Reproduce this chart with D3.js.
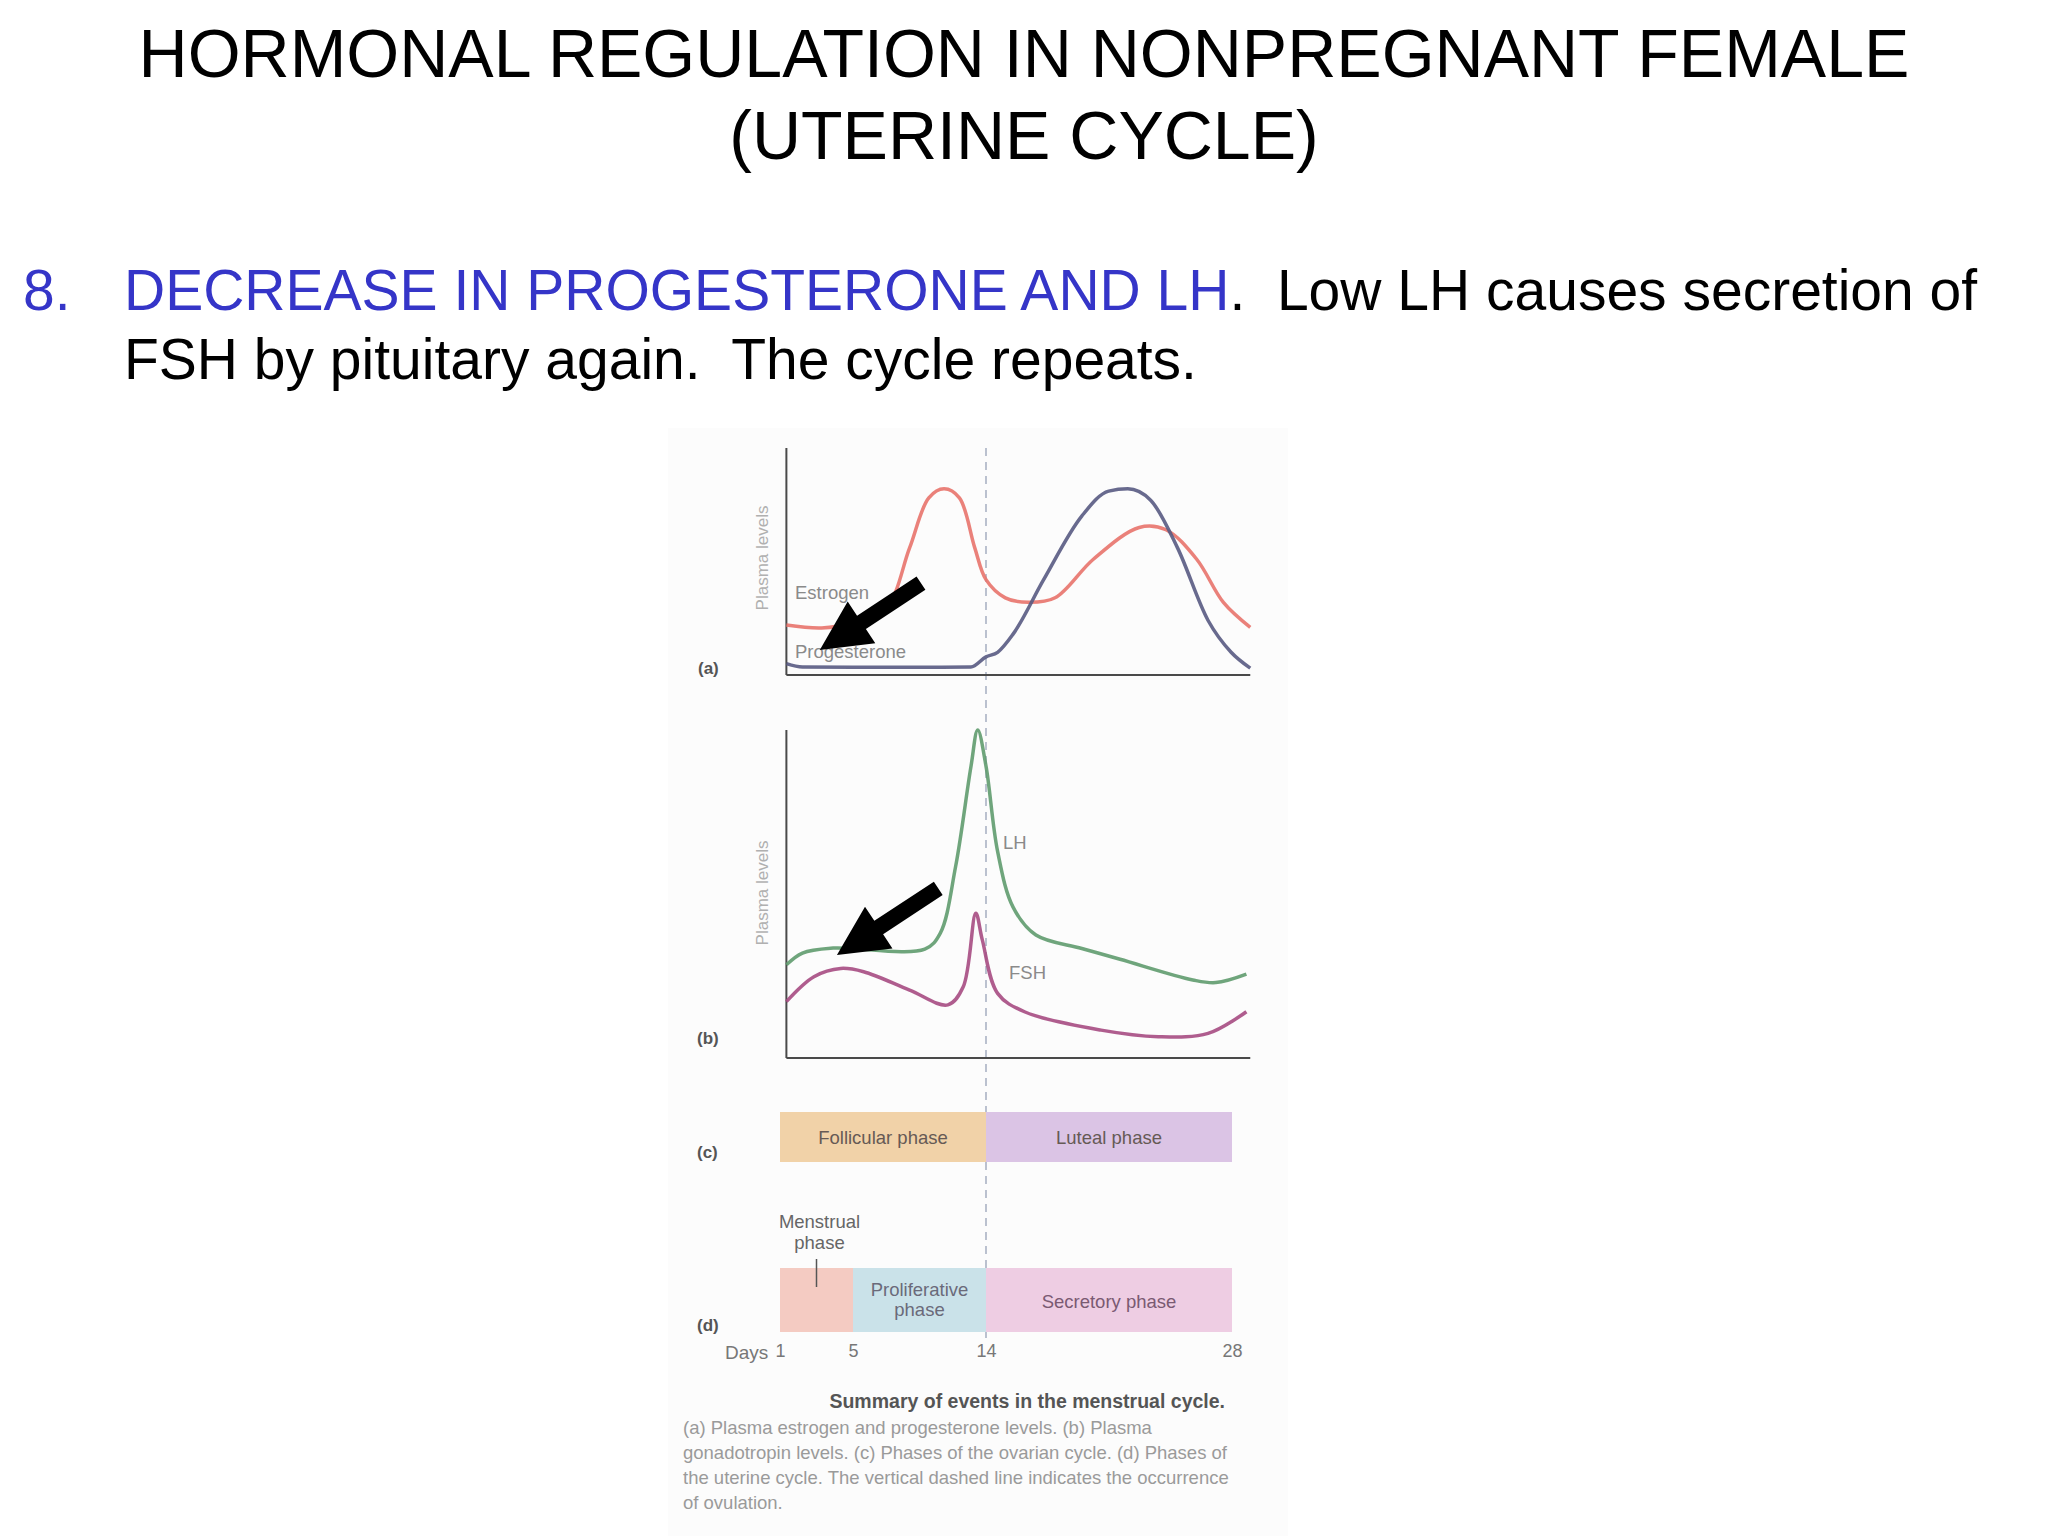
<!DOCTYPE html>
<html>
<head>
<meta charset="utf-8">
<script src="https://cdn.jsdelivr.net/npm/d3@7"></script>
<style>
  body { margin: 0; background: #fff; }
  svg text { font-family: "Liberation Sans", Arial, sans-serif; white-space: pre; }
</style>
</head>
<body>
<div id="chart"></div>
<script>
/* hormonal regulation slide */

const width = 2048;
const height = 1536;

// ---- data (days of cycle, relative plasma level 0-100) ----
const dayTicks = [1, 5, 14, 28];

const estrogenDays   = [1.35, 3.28, 4.96, 7.28, 8.83, 10.13, 11.16, 12.2, 13.24, 14.0, 15.1, 16.41, 17.93, 20.11, 22.72, 24.24, 25.99, 27.51, 29.04];
const estrogenLevels = [22, 20.7, 23, 30, 56, 78, 82, 78, 56, 42, 34, 32, 34, 51, 65, 64, 51, 32, 21];

const progesteroneDays   = [1.35, 2.23, 5, 8, 11, 12.98, 14.0, 14.66, 15.54, 17.28, 19.45, 20.98, 22.07, 23.37, 24.9, 26.64, 27.95, 29.04];
const progesteroneLevels = [5, 3.5, 3.4, 3.4, 3.4, 3.5, 8, 10, 18, 42, 70, 81, 82, 77, 56, 24, 10, 3];

const lhDays   = [1.35, 2.23, 3.91, 9.86, 10.9, 11.94, 12.98, 13.44, 14.0, 14.66, 15.54, 16.84, 19.45, 21.63, 25.77, 27.08, 28.82];
const lhLevels = [28.4, 32, 33.5, 33.2, 38, 58.3, 88.8, 100, 89, 63, 46, 37.5, 33.4, 30.1, 23.8, 23, 25.6];

const fshDays   = [1.35, 2.86, 4.33, 5.72, 8.83, 11.42, 12.46, 13.31, 13.75, 14.66, 16.19, 20.55, 23.81, 26.64, 28.82];
const fshLevels = [17.2, 24.8, 27.3, 26.3, 20.7, 16.2, 21.7, 44.1, 36, 19.7, 14.1, 8.5, 6.5, 7.5, 14.1];

const ovarianPhases = ["Follicular phase", "Luteal phase"];
const ovarianStarts = [1, 14];
const ovarianEnds   = [14, 28];

const uterinePhases = [["Menstrual", "phase"], ["Proliferative", "phase"], ["Secretory phase"]];
const uterineStarts = [1, 5, 14];
const uterineEnds   = [5, 14, 28];

const captionLines = [
  "(a) Plasma estrogen and progesterone levels. (b) Plasma",
  "gonadotropin levels. (c) Phases of the ovarian cycle. (d) Phases of",
  "the uterine cycle. The vertical dashed line indicates the occurrence",
  "of ovulation."
];

// ---- svg ----
const svg = d3.select("#chart").append("svg")
  .attr("width", width)
  .attr("height", height);

svg.append("rect").attr("width", width).attr("height", height).attr("fill", "#fff");
// faint scan background behind the figure
svg.append("rect")
  .attr("x", 668).attr("y", 428).attr("width", 620).attr("height", 1108)
  .attr("fill", "#fcfcfc");

// ---- title and text ----
svg.append("text")
  .attr("x", 1024).attr("y", 77)
  .attr("text-anchor", "middle")
  .attr("font-size", 68)
  .text("HORMONAL REGULATION IN NONPREGNANT FEMALE");
svg.append("text")
  .attr("x", 1024).attr("y", 159)
  .attr("text-anchor", "middle")
  .attr("font-size", 68)
  .text("(UTERINE CYCLE)");

svg.append("text")
  .attr("x", 23).attr("y", 310)
  .attr("font-size", 57)
  .attr("fill", "#3535c8")
  .text("8.");
const line1 = svg.append("text")
  .attr("x", 124).attr("y", 310)
  .attr("font-size", 57);
line1.append("tspan").attr("fill", "#3535c8").text("DECREASE IN PROGESTERONE AND LH");
line1.append("tspan").attr("fill", "#000").text(".  Low LH causes secretion of");
svg.append("text")
  .attr("x", 124).attr("y", 379)
  .attr("font-size", 57)
  .text("FSH by pituitary again.  The cycle repeats.");

// ---- scales ----
const x = d3.scaleLinear().domain(dayTicks).range([780, 853, 986, 1232]);
const yA = d3.scaleLinear().domain([0, 100]).range([675, 448]);
const yB = d3.scaleLinear().domain([0, 100]).range([1058, 730]);
const axisStart = 1.35, axisEnd = 29.04;

function series(days, levels) {
  return days.map((d, i) => ({ day: d, level: levels[i] }));
}

function drawFrame(y, yTopLevel) {
  const g = svg.append("g").attr("stroke", "#4a4a4a").attr("stroke-width", 2);
  g.append("line")
    .attr("x1", x(axisStart)).attr("x2", x(axisStart))
    .attr("y1", y(yTopLevel)).attr("y2", y(0));
  g.append("line")
    .attr("x1", x(axisStart)).attr("x2", x(axisEnd))
    .attr("y1", y(0)).attr("y2", y(0));
}

function drawCurve(data, y, color, curve) {
  const line = d3.line()
    .x(d => x(d.day))
    .y(d => y(d.level))
    .curve(curve || d3.curveCatmullRom.alpha(0.5));
  svg.append("path")
    .datum(data)
    .attr("d", line)
    .attr("fill", "none")
    .attr("stroke", color)
    .attr("stroke-width", 3.5)
    .attr("stroke-linejoin", "round")
    .attr("opacity", 0.9);
}

function label(txt, px, py, opts = {}) {
  return svg.append("text")
    .attr("x", px).attr("y", py)
    .attr("font-size", opts.size || 18.5)
    .attr("fill", opts.color || "#8a8a8a")
    .attr("font-weight", opts.weight || "normal")
    .attr("text-anchor", opts.anchor || "start")
    .text(txt);
}

function arrow(tipDay, tipLevel, tailDay, tailLevel, y) {
  const tx = x(tipDay), ty = y(tipLevel);
  const sx = x(tailDay), sy = y(tailLevel);
  const len = Math.hypot(tx - sx, ty - sy);
  const ux = (tx - sx) / len, uy = (ty - sy) / len;
  const nx = -uy, ny = ux;
  const hl = 50, hw = 25, sw = 8;
  const bx = tx - ux * hl, by = ty - uy * hl;
  const pts = [
    [sx + nx * sw, sy + ny * sw],
    [bx + nx * sw, by + ny * sw],
    [bx + nx * hw, by + ny * hw],
    [tx, ty],
    [bx - nx * hw, by - ny * hw],
    [bx - nx * sw, by - ny * sw],
    [sx - nx * sw, sy - ny * sw]
  ];
  svg.append("polygon")
    .attr("points", pts.map(p => p.join(",")).join(" "))
    .attr("fill", "#000");
}

// ---- ovulation dashed line ----
svg.append("line")
  .attr("x1", x(14)).attr("x2", x(14))
  .attr("y1", yA(100)).attr("y2", 1340)
  .attr("stroke", "#aab2c4")
  .attr("stroke-width", 1.6)
  .attr("stroke-dasharray", "8,6");

// ---- panel (a) ----
drawFrame(yA, 100);
drawCurve(series(estrogenDays, estrogenLevels), yA, "#e8736c");
// monotone keeps the flat progesterone baseline from dipping
drawCurve(series(progesteroneDays, progesteroneLevels), yA, "#585a82", d3.curveMonotoneX);
label("Estrogen", 795, 599);
label("Progesterone", 795, 658);
svg.append("text")
  .attr("transform", "translate(768,558) rotate(-90)")
  .attr("text-anchor", "middle")
  .attr("font-size", 17)
  .attr("fill", "#b0b0b0")
  .text("Plasma levels");
label("(a)", 698, 674, { size: 17, color: "#555", weight: "bold" });
arrow(3.18, 11, 9.6, 40.5, yA);

// ---- panel (b) ----
drawFrame(yB, 100);
drawCurve(series(lhDays, lhLevels), yB, "#5f9b6e");
drawCurve(series(fshDays, fshLevels), yB, "#a64b82");
label("LH", 1003, 849);
label("FSH", 1009, 979);
svg.append("text")
  .attr("transform", "translate(768,893) rotate(-90)")
  .attr("text-anchor", "middle")
  .attr("font-size", 17)
  .attr("fill", "#b0b0b0")
  .text("Plasma levels");
label("(b)", 697, 1044, { size: 17, color: "#555", weight: "bold" });
arrow(4.12, 31.4, 10.77, 51.7, yB);

// ---- panel (c): ovarian cycle ----
const ovarianColors = ["#f1d2a8", "#dbc4e5"];
const cTop = 1112, cBottom = 1162;
svg.selectAll("rect.ovarian")
  .data(ovarianPhases)
  .join("rect")
  .attr("class", "ovarian")
  .attr("x", (d, i) => x(ovarianStarts[i]))
  .attr("width", (d, i) => x(ovarianEnds[i]) - x(ovarianStarts[i]))
  .attr("y", cTop)
  .attr("height", cBottom - cTop)
  .attr("fill", (d, i) => ovarianColors[i]);
svg.selectAll("text.ovarian")
  .data(ovarianPhases)
  .join("text")
  .attr("class", "ovarian")
  .attr("x", (d, i) => (x(ovarianStarts[i]) + x(ovarianEnds[i])) / 2)
  .attr("y", 1144)
  .attr("text-anchor", "middle")
  .attr("font-size", 18.5)
  .attr("fill", "#665a55")
  .text(d => d);
label("(c)", 697, 1158, { size: 17, color: "#555", weight: "bold" });

// ---- panel (d): uterine cycle ----
const uterineColors = ["#f4cbc2", "#cae2e9", "#eecde3"];
const dTop = 1268, dBottom = 1332;
svg.selectAll("rect.uterine")
  .data(uterinePhases)
  .join("rect")
  .attr("class", "uterine")
  .attr("x", (d, i) => x(uterineStarts[i]))
  .attr("width", (d, i) => x(uterineEnds[i]) - x(uterineStarts[i]))
  .attr("y", dTop)
  .attr("height", dBottom - dTop)
  .attr("fill", (d, i) => uterineColors[i]);

// menstrual label sits above its bar with a pointer
const mx = x(3);
label(uterinePhases[0][0], mx + 3, 1228, { color: "#666", anchor: "middle" });
label(uterinePhases[0][1], mx + 3, 1249, { color: "#666", anchor: "middle" });
svg.append("line")
  .attr("x1", mx).attr("x2", mx)
  .attr("y1", 1259).attr("y2", 1287)
  .attr("stroke", "#555").attr("stroke-width", 1.5);

const prolX = (x(uterineStarts[1]) + x(uterineEnds[1])) / 2;
label(uterinePhases[1][0], prolX, 1296, { color: "#6a6a7a", anchor: "middle" });
label(uterinePhases[1][1], prolX, 1316, { color: "#6a6a7a", anchor: "middle" });
const secX = (x(uterineStarts[2]) + x(uterineEnds[2])) / 2;
label(uterinePhases[2][0], secX, 1308, { color: "#7a5a72", anchor: "middle" });
label("(d)", 697, 1331, { size: 17, color: "#555", weight: "bold" });

// day axis
const dayAxis = d3.axisBottom(x).tickValues(dayTicks).tickSize(0).tickPadding(0);
const ga = svg.append("g").attr("transform", "translate(0,1344)").call(dayAxis);
ga.select(".domain").remove();
ga.selectAll("text")
  .attr("font-family", "Liberation Sans, Arial, sans-serif")
  .attr("font-size", 18)
  .attr("fill", "#777");
label("Days", 725, 1359, { size: 19, color: "#777" });

// ---- caption ----
label("Summary of events in the menstrual cycle.", 1225, 1408, { size: 19.5, color: "#555", weight: "bold", anchor: "end" });
svg.selectAll("text.caption")
  .data(captionLines)
  .join("text")
  .attr("class", "caption")
  .attr("x", 683)
  .attr("y", (d, i) => 1434 + i * 25)
  .attr("font-size", 18.5)
  .attr("fill", "#9a9a9a")
  .text(d => d);
</script>
</body>
</html>
